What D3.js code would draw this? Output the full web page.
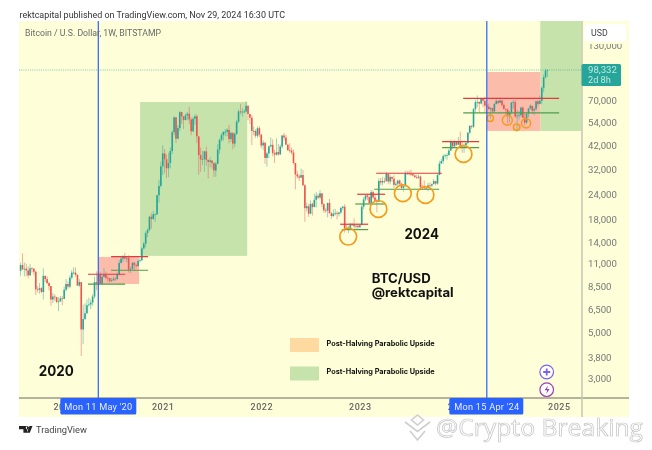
<!DOCTYPE html>
<html><head><meta charset="utf-8">
<script src="https://cdn.jsdelivr.net/npm/d3@7"></script>
<style>
html,body{margin:0;padding:0;background:#fff;overflow:hidden}
svg{display:block;filter:blur(0.3px)}
text{font-family:Roboto,sans-serif}
</style></head><body><svg id="c" width="652" height="450"></svg>
<script>
// Weekly BTC/USD values in thousands of USD, first bar: week of 29 Jul 2019
const firstWeek = "2019-07-29";
const firstOpen = 10.1;
const closes = [
10.8,10.3,10.35,10.15,9.6,10.4,10.35,10.0,8.2,8.15,8.3,7.95,9.55,9.2,8.8,8.5,7.3,7.55,7.5,7.1,7.15,7.4,7.35,
8.15,8.7,8.45,9.35,9.9,9.9,9.65,8.55,8.9,5.2,5.85,6.25,6.85,6.9,7.05,7.55,8.9,8.75,9.68,8.72,9.45,9.65,9.33,9.3,9.0,9.07,9.25,9.2,9.7,11.05,11.6,11.85,11.65,11.7,10.25,10.33,11.08,10.78,10.67,11.3,11.37,13.03,13.75,15.5,16.05,18.65,18.18,19.15,19.17,23.8,26.45,33.0,
38.2,35.8,32.3,34.3,39.25,48.6,57.5,45.2,50.95,61.0,58.1,55.8,58.8,59.9,56.2,49.1,56.6,58.2,46.4,37.5,35.7,35.8,39.1,35.5,34.7,35.3,34.25,31.5,34.0,39.9,44.6,47.0,48.8,48.8,49.9,44.95,48.3,42.7,47.7,54.7,61.5,60.9,61.3,61.5,65.5,59.7,57.3,49.3,49.3,46.7,50.8,47.3,
41.8,43.1,36.3,38.2,41.4,42.1,38.4,37.7,38.8,37.8,41.3,46.8,45.8,42.2,39.7,39.45,38.6,34.3,30.1,29.45,29.0,29.9,26.6,20.55,21.0,19.3,21.6,20.8,22.6,23.65,23.17,24.3,21.5,20.05,19.99,21.8,19.4,18.8,19.3,19.4,19.26,19.57,20.6,20.9,16.3,16.28,16.45,17.1,17.1,16.75,16.84,16.55,
16.95,20.88,22.7,23.75,23.32,21.8,24.65,23.2,22.35,22.1,27.98,27.48,27.95,27.92,30.3,27.8,29.3,28.7,26.77,27.1,28.1,27.1,25.85,26.34,30.5,30.47,30.28,30.24,29.77,29.23,29.05,29.4,26.1,26.0,25.87,25.83,26.6,26.55,26.97,27.92,27.15,29.9,34.08,35.05,37.06,37.38,37.46,39.47,43.8,41.4,43.7,42.15,
43.95,41.7,41.58,42.0,43.0,48.3,52.15,51.7,63.1,68.3,68.4,67.2,71.3,69.36,65.65,64.9,63.1,64.0,61.5,66.9,69.3,67.75,69.65,66.2,63.2,62.7,58.2,60.8,68.15,68.25,58.1,58.7,58.9,64.2,57.3,54.15,60.0,63.55,65.6,62.1,63.2,69.0,67.0,69.3,80.4,90.5,97.7,98.33];
const highs = [
11.1,12.3,11.1,10.95,10.6,10.9,10.5,10.4,10.1,8.5,8.8,8.4,10.4,9.5,9.5,8.9,8.5,7.85,7.75,7.5,7.5,7.6,7.6,
8.45,9.2,8.95,9.6,10.2,10.5,10.5,9.7,9.2,8.2,6.9,7.0,7.3,7.45,7.3,7.75,9.45,10.05,9.95,9.95,9.75,10.4,10.0,9.55,9.3,9.35,9.5,9.4,9.9,11.4,11.9,12.1,12.4,11.8,12.05,10.6,11.1,11.2,10.95,11.45,11.7,13.2,14.0,15.8,16.4,18.9,19.4,19.9,19.4,23.9,28.3,34.8,
41.9,40.1,37.8,38.5,40.9,49.5,58.3,57.5,52.6,61.7,61.2,58.4,60.1,61.2,64.9,57.5,57.9,59.5,59.5,45.8,40.9,39.4,39.4,41.3,35.7,36.6,35.1,34.6,34.8,42.4,45.3,48.1,49.0,50.4,50.9,52.9,48.5,48.0,48.5,56.0,62.9,67.0,63.7,63.0,69.0,66.3,59.4,59.0,51.9,50.2,51.9,52.1,
47.5,44.4,43.5,38.9,41.7,45.8,44.8,39.8,45.4,42.5,42.3,47.0,48.2,47.2,42.4,42.9,40.8,39.9,34.2,31.4,30.2,32.2,31.7,27.0,21.9,21.6,22.4,21.9,24.2,24.7,24.2,25.2,24.4,21.8,20.6,21.9,22.8,19.7,20.3,20.4,19.9,19.7,20.9,21.1,21.5,17.1,16.8,17.4,17.4,18.3,17.0,17.1,
17.0,21.3,23.3,23.8,24.2,23.5,25.2,25.1,23.9,22.8,28.8,28.9,29.2,29.0,31.0,30.5,30.0,29.3,29.8,27.7,28.4,28.4,27.4,26.8,31.4,31.4,31.5,31.8,30.3,30.0,30.0,30.2,29.7,26.8,28.1,26.1,27.4,27.5,27.2,28.6,28.0,30.3,35.2,35.9,37.9,37.9,38.4,40.2,44.7,43.4,44.3,43.5,
46.0,48.9,43.5,42.8,43.9,48.6,52.8,52.9,64.0,70.0,73.7,68.9,71.7,71.4,72.7,66.8,67.2,64.7,64.0,67.7,71.9,70.0,72.0,70.0,66.9,63.4,63.8,61.7,68.3,70.0,70.0,62.7,61.8,65.0,65.0,59.8,60.6,64.1,66.5,65.0,64.4,69.4,70.0,73.6,81.5,93.5,99.6,98.9];
const lows = [
9.5,10.2,9.5,9.5,9.3,9.55,9.9,9.6,7.7,7.9,7.8,7.85,7.3,8.9,8.7,8.1,6.8,7.0,7.2,7.0,6.4,7.1,6.85,
7.6,8.0,8.25,8.3,9.15,9.7,9.45,8.5,8.4,3.85,4.4,5.8,6.2,6.75,6.55,6.8,7.4,8.1,8.2,8.8,8.65,9.35,9.2,8.9,8.85,8.9,9.05,9.0,9.15,9.65,11.0,11.15,11.4,11.15,9.9,9.85,10.2,10.15,10.4,10.55,11.2,11.35,12.9,13.2,14.8,15.8,16.3,18.0,17.6,19.0,21.9,26.0,
29.9,30.4,28.9,29.2,32.3,37.9,47.0,43.0,44.9,49.3,53.3,50.4,55.5,55.6,53.3,47.0,48.7,52.9,42.9,30.0,31.0,33.5,31.0,33.3,28.8,32.7,32.1,29.3,29.3,33.8,38.0,43.7,44.1,46.4,46.5,42.8,43.4,40.0,41.0,47.1,53.9,59.4,58.0,60.0,60.8,55.6,53.3,42.0,46.8,45.5,45.6,46.0,
40.6,39.7,34.0,32.9,36.2,40.9,37.0,34.3,37.2,37.2,37.6,40.5,44.3,42.1,39.2,38.6,37.7,33.7,25.4,28.7,28.0,29.3,26.6,17.6,19.8,18.6,19.3,18.9,20.8,20.7,22.7,22.7,20.8,19.5,19.5,18.5,19.4,18.2,18.6,18.9,18.1,18.7,19.2,20.1,15.6,16.2,15.5,16.1,16.8,16.3,16.3,16.3,
16.5,17.3,20.3,22.3,22.5,21.5,21.4,22.8,22.0,19.6,22.0,26.6,26.6,27.2,27.8,27.1,26.9,27.7,25.8,26.4,26.1,26.6,25.4,24.8,26.3,29.9,29.9,29.7,29.5,29.0,28.6,28.6,25.2,25.4,25.4,25.4,24.9,26.0,26.0,27.2,26.6,26.8,29.9,34.0,34.0,36.0,35.6,37.5,39.5,40.2,41.0,41.6,
42.6,40.7,38.5,38.5,41.9,42.3,47.7,50.5,50.9,60.8,64.5,60.8,66.6,64.5,60.7,59.6,62.8,56.5,60.6,60.7,66.6,66.6,67.6,65.0,63.4,58.4,53.5,54.3,59.5,63.4,57.1,49.0,56.1,57.8,57.2,52.6,53.6,57.5,62.7,60.0,58.9,62.0,65.3,66.8,66.8,76.6,89.4,90.8];

const priceTicks = [130000,70000,54000,42000,32000,24000,18000,14000,11000,8500,6500,5000,3800,3000];
const yearTickDates = ["2020-01-06","2021-01-04","2022-01-03","2023-01-02","2024-01-01","2025-01-06"];
const lastPrice = 98332;
const halvingDates = ["2020-05-11","2024-04-15"];
const halvingLabels = ["Mon 11 May '20","Mon 15 Apr '24"];

// Shaded zones: [start year, end year, low price, high price]
const greenZones = [[2020.78,2021.863,11970,68400],[2024.827,2025.242,49300,210000]];
const redZones = [[2020.358,2020.77,8710,11830],[2024.291,2024.827,49300,96100]];
// Level lines: [start year, end year, price]
const redLevels = [[2020.254,2020.629,9720],[2020.487,2020.861,11860],[2022.804,2023.087,17130],[2022.976,2023.259,24060],[2023.168,2023.833,30520],[2023.836,2024.21,43650],[2024.049,2025.017,71360]];
const greenLevels = [[2020.254,2020.629,8685],[2020.487,2020.861,10170],[2022.824,2023.087,16120],[2022.956,2023.259,21550],[2023.148,2023.806,25470],[2023.836,2024.21,40780],[2024.049,2025.017,60430]];
// Retest circles: [year, price]
const retests = [[2022.885,14890],[2023.191,20380],[2023.438,24330],[2023.667,23870],[2024.052,37970]];
const miniRetests = [[2024.322,56900],[2024.494,55620],[2024.588,51390],[2024.683,53770]];
const miniRadius = [3.2,5,3.2,4.6];

const x = d3.scaleUtc().domain([new Date(halvingDates[0]),new Date(halvingDates[1])]).range([98.3,486.8]);
const y = d3.scaleLog().domain([3000,70000]).range([378,100]);
const yearX = v => { const yr=Math.floor(v); const a=Date.UTC(yr,0,1), b=Date.UTC(yr+1,0,1); return x(new Date(a+(v-yr)*(b-a))); };

const L=19,R=629,T=21,B=417,AX=582,AY=398;
const svg = d3.select("#c");
const TEAL="#26a69a", RED="#ef5350", BLUE="#2962ff";

svg.append("text").attr("x",19.5).attr("y",17.5).attr("font-size",9.6).attr("fill","#333").text("rektcapital published on TradingView.com, Nov 29, 2024 16:30 UTC").attr("textLength",265.5).attr("lengthAdjust","spacingAndGlyphs");
svg.append("rect").attr("x",L).attr("y",T).attr("width",R-L).attr("height",B-T).attr("fill","#fefed8");

// Zones
const plot = svg.append("g");
svg.append("clipPath").attr("id","pc").append("rect").attr("x",L).attr("y",T).attr("width",AX-L).attr("height",AY-T);
plot.attr("clip-path","url(#pc)");
plot.selectAll(".gz").data(greenZones).join("rect").attr("x",d=>yearX(d[0])).attr("width",d=>yearX(d[1])-yearX(d[0])).attr("y",d=>y(d[3])).attr("height",d=>y(d[2])-y(d[3])).attr("fill","#c5e3ab");
plot.selectAll(".rz").data(redZones).join("rect").attr("x",d=>yearX(d[0])).attr("width",d=>yearX(d[1])-yearX(d[0])).attr("y",d=>y(d[3])).attr("height",d=>y(d[2])-y(d[3])).attr("fill","#fbbcaa");

plot.append("line").attr("x1",L).attr("x2",AX).attr("y1",y(lastPrice)).attr("y2",y(lastPrice)).attr("stroke","#26a69a").attr("stroke-width",0.8).attr("stroke-dasharray","1 1.2").attr("opacity",0.75);

// Candles
const weeks = d3.range(closes.length).map(i=>d3.utcMonday.offset(new Date(firstWeek),i));
const candles = weeks.map((t,i)=>({t,o:(i?closes[i-1]:firstOpen)*1000,c:closes[i]*1000,h:highs[i]*1000,l:lows[i]*1000}));
const gc = plot.append("g");
gc.selectAll("line").data(candles).join("line")
  .attr("x1",d=>x(d.t)).attr("x2",d=>x(d.t)).attr("y1",d=>y(d.h)).attr("y2",d=>y(d.l))
  .attr("stroke",d=>d.c>=d.o?TEAL:RED).attr("stroke-width",0.8).attr("opacity",0.6);
gc.selectAll("rect").data(candles).join("rect")
  .attr("x",d=>x(d.t)-0.8).attr("width",1.6)
  .attr("y",d=>Math.min(y(d.o),y(d.c))).attr("height",d=>Math.max(0.8,Math.abs(y(d.o)-y(d.c))))
  .attr("fill",d=>d.c>=d.o?TEAL:RED);

// Levels
const levels=(data,col)=>plot.append("g").selectAll("line").data(data).join("line")
  .attr("x1",d=>yearX(d[0])).attr("x2",d=>yearX(d[1])).attr("y1",d=>y(d[2])).attr("y2",d=>y(d[2]))
  .attr("stroke",col).attr("stroke-width",1.2);
levels(redLevels,"#e5383f"); levels(greenLevels,"#4f9e4f");

// Circles
plot.append("g").selectAll("circle").data(retests).join("circle").attr("cx",d=>yearX(d[0])).attr("cy",d=>y(d[1])).attr("r",8.4).attr("fill","none").attr("stroke","#f59c1a").attr("stroke-width",1.7);
plot.append("g").selectAll("circle").data(miniRetests).join("circle").attr("cx",d=>yearX(d[0])).attr("cy",d=>y(d[1])).attr("r",(d,i)=>miniRadius[i]).attr("fill","none").attr("stroke","#f59c1a").attr("stroke-width",1.5);

// Halving lines
plot.selectAll(".hl").data(halvingDates).join("line").attr("x1",d=>x(new Date(d))).attr("x2",d=>x(new Date(d))).attr("y1",T).attr("y2",AY).attr("stroke",BLUE).attr("stroke-width",1.2);

// Axes
const axY = svg.append("g").attr("transform",`translate(${AX},0)`).call(d3.axisRight(y).tickValues(priceTicks).tickFormat(d3.format(",")).tickSize(0).tickPadding(6));
axY.select(".domain").remove();
axY.selectAll("text").attr("font-size",9.6).attr("fill","#787878").attr("font-family","Roboto,sans-serif");
const axX = svg.append("g").attr("transform",`translate(0,${AY})`).call(d3.axisBottom(x).tickValues(yearTickDates.map(d=>new Date(d))).tickFormat(d3.utcFormat("%Y")).tickSize(0).tickPadding(6));
axX.select(".domain").remove();
axX.selectAll("text").attr("font-size",9).attr("font-weight",500).attr("fill","#666").attr("letter-spacing",0.5).attr("font-family","Roboto,sans-serif");
svg.append("line").attr("x1",L).attr("x2",R).attr("y1",AY).attr("y2",AY).attr("stroke","#6b6b60").attr("stroke-width",1);
svg.append("line").attr("x1",AX).attr("x2",AX).attr("y1",T).attr("y2",B).attr("stroke","#c9c8b4").attr("stroke-width",1.6);

// Header and USD (the top tick label runs partly under this box)
svg.append("text").attr("x",25).attr("y",36).attr("font-size",8.6).attr("fill","#6a6a6a").attr("textLength",136).attr("lengthAdjust","spacingAndGlyphs").text("Bitcoin / U.S. Dollar, 1W, BITSTAMP");
svg.append("rect").attr("x",584).attr("y",40).attr("width",43).attr("height",4).attr("fill","#fefed8");
svg.append("rect").attr("x",584.5).attr("y",24).attr("width",41.5).attr("height",17.5).attr("rx",3).attr("fill","#fff");
svg.append("text").attr("x",591).attr("y",36).attr("font-size",8.8).attr("fill","#444").text("USD");

// Last price label
svg.append("rect").attr("x",AX-0.5).attr("y",y(lastPrice)-6).attr("width",39.5).attr("height",22).attr("rx",1.5).attr("fill",TEAL);
svg.append("text").attr("x",588).attr("y",y(lastPrice)+2.5).attr("font-size",9.6).attr("fill","#bfe8e1").text(d3.format(",")(lastPrice));
svg.append("text").attr("x",588).attr("y",y(lastPrice)+12.5).attr("font-size",9.2).attr("fill","#bfe8e1").text("2d 8h");

// Date labels
const dl = svg.append("g").selectAll("g").data(halvingDates).join("g").attr("transform",d=>`translate(${x(new Date(d))},${AY})`);
dl.append("rect").attr("x",(d,i)=>i?-37.5:-38).attr("width",(d,i)=>i?74:76).attr("y",0).attr("height",16.5).attr("rx",1.5).attr("fill",BLUE);
dl.append("text").attr("text-anchor","middle").attr("y",12).attr("font-size",9.2).attr("letter-spacing",0.25).attr("fill","#e8eeff").text((d,i)=>halvingLabels[i]);

// Annotations
const bold=(tx,x0,y0,s,tl)=>svg.append("text").attr("x",x0).attr("y",y0).attr("font-size",s).attr("font-weight",700).attr("fill","#111").attr("textLength",tl).attr("lengthAdjust","spacingAndGlyphs").style("font-family","Inter,sans-serif").text(tx);
bold("2020",38.7,375.5,14,35);
bold("2024",404.5,238.5,14,34.5);
bold("BTC/USD",371.7,283,12.8,59);
bold("@rektcapital",371.7,297,12.8,82);
svg.append("rect").attr("x",290).attr("y",338).attr("width",29).attr("height",14).attr("fill","#fed9a0");
svg.append("rect").attr("x",290).attr("y",366.5).attr("width",29).attr("height",14).attr("fill","#c5e3ab");
bold("Post-Halving Parabolic Upside",326.6,345.5,7,108);
bold("Post-Halving Parabolic Upside",326.6,374,7,108);

// Purple buttons
svg.append("circle").attr("cx",546.7).attr("cy",372).attr("r",6.8).attr("fill","#fff").attr("stroke","#7a63e8").attr("stroke-width",1.2);
svg.append("path").attr("d","M546.7 368.5v7M543.2 372h7").attr("stroke","#7a63e8").attr("stroke-width",1.8);
svg.append("circle").attr("cx",546.7).attr("cy",389.7).attr("r",6.8).attr("fill","#fff").attr("stroke","#9c3fb5").attr("stroke-width",1.2);
svg.append("path").attr("d","M548 385.5l-3.4 4.8h2.6l-1 3.8 3.4-5h-2.6z").attr("fill","#9c3fb5");

// Footer logo
svg.append("path").attr("fill","#222").attr("d","M19 426h8v6.7h-3.6v-3.4H19zM27.4 426.2a1.6 1.6 0 1 0 .01 0zM29.5 426h3l-2.7 6.7h-3z");
svg.append("text").attr("x",36).attr("y",432.8).attr("font-size",9.4).attr("fill","#444").attr("textLength",51).attr("lengthAdjust","spacingAndGlyphs").text("TradingView");

// Watermark
svg.append("text").attr("x",436).attr("y",436).attr("font-size",24).attr("fill","#fff").attr("stroke","#c4c4c4").attr("stroke-width",0.7).attr("textLength",207).attr("lengthAdjust","spacingAndGlyphs").style("font-family","'Open Sans',sans-serif").text("@Crypto Breaking");
svg.append("path").attr("fill","none").attr("stroke","#cfcfcf").attr("stroke-width",1.6).attr("d","M417.5 415l6 5-6 5-6-5zM405 422l12.5 9.5L430 422M410 431l7.5 9 7.5-9");

if(closes.length!==highs.length||closes.length!==lows.length) console.error("length mismatch",closes.length,highs.length,lows.length);
</script></body></html>
